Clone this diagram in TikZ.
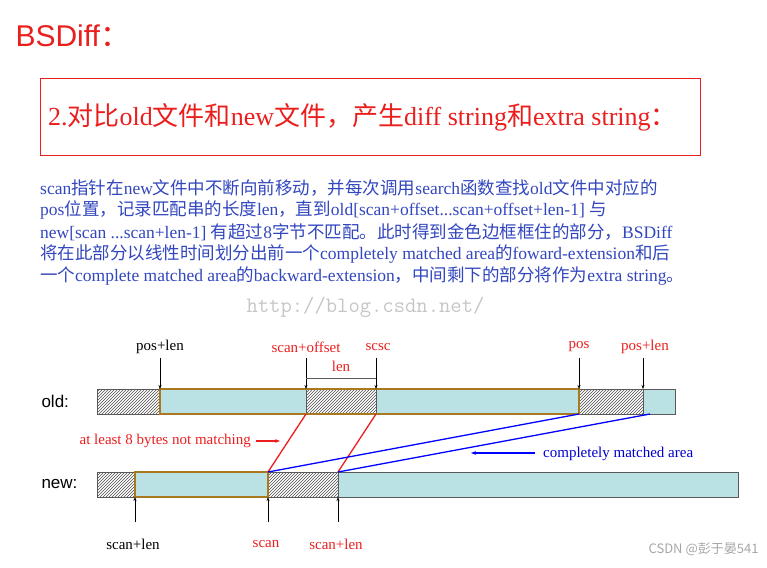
\documentclass[tikz,border=0pt]{standalone}
\usepackage{fontspec}
\setmainfont{Liberation Serif}
\newfontfamily\cjk{Noto Sans CJK SC}
\newfontfamily\sans{Liberation Sans}
\usetikzlibrary{patterns,arrows.meta}
\definecolor{barfill}{RGB}{186,226,228}
\definecolor{gold}{RGB}{170,120,30}
\definecolor{txtblue}{RGB}{50,70,190}
\definecolor{tred}{RGB}{235,30,30}
\tikzset{
 plain/.style={fill=barfill,draw=gray!70!black,line width=0.6pt},
 hatch/.style={pattern=north east lines,pattern color=black!70,draw=gray!70!black,line width=0.6pt},
 goldbox/.style={draw=gold,line width=1.4pt},
 pt/.style={-{Stealth[length=4pt]},line width=0.5pt},
 lbl/.style={font=\fontsize{15}{17}\selectfont,inner sep=1pt},
 para/.style={anchor=west,text=txtblue,font=\fontsize{17.5}{19}\selectfont,inner sep=0pt},
}
\begin{document}
\begin{tikzpicture}[x=1pt,y=-1pt]
\useasboundingbox (0,0) rectangle (767,567);
\node[anchor=west,text=tred,font=\sans\fontsize{30}{32}\selectfont] (title) at (12,36) {BSDiff\cjk：};
\node[draw=tred,line width=1pt,minimum width=660pt,minimum height=77pt,anchor=north west] (box) at (40,78) {};
\node[anchor=west,text=tred,font=\fontsize{26}{28}\selectfont,inner sep=0pt] (head) at (48,117) {2.\cjk 对比\rmfamily old\cjk 文件和\rmfamily new\cjk 文件，产生\rmfamily diff string\cjk 和\rmfamily extra string\cjk ：};
\node[para] (p1) at (40,188) {scan\cjk 指针在\rmfamily new\cjk 文件中不断向前移动，并每次调用\rmfamily search\cjk 函数查找\rmfamily old\cjk 文件中对应的};
\node[para] (p2) at (40,210) {pos\cjk 位置，记录匹配串的长度\rmfamily len\cjk ，直到\rmfamily old[scan+offset...scan+offset+len-1]\ \cjk 与};
\node[para] (p3) at (40,232) {new[scan ...scan+len-1]\ \cjk 有超过\rmfamily 8\cjk 字节不匹配。此时得到金色边框框住的部分，\rmfamily BSDiff};
\node[para] (p4) at (40,254) {\cjk 将在此部分以线性时间划分出前一个\rmfamily completely matched area\cjk 的\rmfamily foward-extension\cjk 和后};
\node[para] (p5) at (40,276) {\cjk 一个\rmfamily complete matched area\cjk 的\rmfamily backward-extension\cjk ，中间剩下的部分将作为\rmfamily extra string\cjk 。};
\node[anchor=west,text=gray!45,font=\ttfamily\fontsize{22}{24}\selectfont] (wm) at (243,307) {http://blog.csdn.net/};
% old bar
\draw[hatch] (97,389) rectangle (160,414);
\draw[plain] (160,389) rectangle (306,414);
\draw[hatch] (306,389) rectangle (376,414);
\draw[plain] (376,389) rectangle (579,414);
\draw[hatch] (579,389) rectangle (643,414);
\draw[plain] (643,389) rectangle (675,414);
\draw[goldbox] (160,389) rectangle (579,414);
% new bar
\draw[hatch] (97,472) rectangle (135,497);
\draw[plain] (135,472) rectangle (268,497);
\draw[hatch] (268,472) rectangle (338,497);
\draw[plain] (338,472) rectangle (738,497);
\draw[goldbox] (135,472) rectangle (268,497);
\node[anchor=west,font=\sans\fontsize{17}{19}\selectfont] (old) at (38,401) {old:};
\node[anchor=west,font=\sans\fontsize{17}{19}\selectfont] (new) at (38,484) {new:};
% coordinates
\coordinate (o1) at (160,389); \coordinate (o2) at (306,389); \coordinate (o3) at (376,389);
\coordinate (o4) at (579,389); \coordinate (o5) at (643,389);
\coordinate (ob2) at (306,414); \coordinate (ob3) at (376,414); \coordinate (ob4) at (579,414); \coordinate (ob5) at (650,414);
\coordinate (n2) at (268,472); \coordinate (n3) at (338,472);
\coordinate (nb1) at (135,497); \coordinate (nb2) at (268,497); \coordinate (nb3) at (338,497);
% top labels
\node[lbl] (t1) at (160,347) {pos+len};
\node[lbl,text=tred] (t2) at (306,347) {scan+offset};
\node[lbl,text=tred] (t3) at (378,347) {scsc};
\node[lbl,text=tred] (t4) at (579,347) {pos};
\node[lbl,text=tred] (t5) at (645,347) {pos+len};
\node[lbl,text=tred] (tl) at (341,366) {len};
\coordinate (a1) at (160,358); \coordinate (a2) at (306,358); \coordinate (a3) at (376,358);
\coordinate (a4) at (579,358); \coordinate (a5) at (643,358);
\draw[pt] (a1) -- (o1); \draw[pt] (a2) -- (o2); \draw[pt] (a3) -- (o3);
\draw[pt] (a4) -- (o4); \draw[pt] (a5) -- (o5);
\draw[gray!70!black,line width=0.6pt] (306,378) -- (376,378);
% bottom labels
\node[lbl] (b1) at (133,544) {scan+len};
\node[lbl,text=tred] (b2) at (266,544) {scan};
\node[lbl,text=tred] (b3) at (336,544) {scan+len};
\coordinate (c1) at (135,522); \coordinate (c2) at (268,522); \coordinate (c3) at (338,522);
\draw[pt] (c1) -- (nb1); \draw[pt] (c2) -- (nb2); \draw[pt] (c3) -- (nb3);
% connectors
\draw[tred,line width=1.3pt] (ob2) -- (n2);
\draw[tred,line width=1.3pt] (ob3) -- (n3);
\draw[blue,line width=1.3pt] (ob4) -- (n2);
\draw[blue,line width=1.3pt] (ob5) -- (n3);
\node[lbl,text=tred,anchor=east] (lm) at (252,441) {at least 8 bytes not matching};
\coordinate (lma) at (280,441);
\draw[tred,line width=1.3pt,-{Stealth[length=5pt]}] (lm.east) ++(4,0) -- (lma);
\node[lbl,text=blue!80!black,anchor=west] (cm) at (542,454) {completely matched area};
\coordinate (cma) at (471,453);
\coordinate (cms) at (535,453);
\draw[blue,line width=1.3pt,-{Stealth[length=5pt]}] (cms) -- (cma);
\node[anchor=east,text=gray!70,font=\cjk\fontsize{13}{15}\selectfont] (wm2) at (762,549) {CSDN @彭于晏541};
\end{tikzpicture}
\end{document}
